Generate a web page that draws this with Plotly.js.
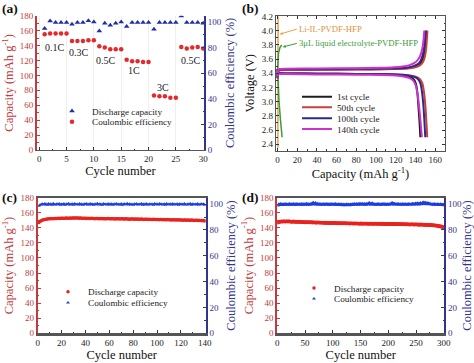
<!DOCTYPE html>
<html>
<head>
<meta charset="utf-8">
<script src="https://cdn.plot.ly/plotly-3.0.1.min.js"></script>
<style>html,body{margin:0;padding:0;background:#fff;}#chart{width:474px;height:363px;}</style>
</head>
<body>
<div id="chart"></div>
<script>
// ---------- Panel (a): rate capability ----------
var rateCycles = [1,2,3,4,5,6,7,8,9,10,11,12,13,14,15,16,17,18,19,20,21,22,23,24,25,26,27,28,29,30];
var rateCapacity = [155,156,156,156,156,146,146,146,147,147,139,137.5,135,135,135,121,119,119,118,118,73,72,72,70,70,138,136,137.5,138,136];
var rateEfficiency = [95,100.8,99.7,99.7,99.7,98.4,99.7,99.7,101,100,93,99,97.6,99,100,96.6,99.7,99.7,99.7,99.7,94.5,99.7,99.7,99.7,99.7,104.7,99.7,99.7,99.7,99];
var rateLabels = ['0.1C','0.3C','0.5C','1C','3C','0.5C'];
var rateLabelX = [2.9,7.3,12.2,17.3,22.6,27.7];
var rateLabelY = [138,131.3,120.6,105.9,84.4,120.6];

// ---------- Panel (b): charge/discharge profiles ----------
var c1ChX = [0,0.5,2,10,40,80,110,125,133,139,143,146,148,149.5,150.5,151];
var c1ChY = [3.33,3.42,3.445,3.45,3.452,3.456,3.46,3.466,3.475,3.49,3.515,3.56,3.63,3.74,3.88,4.0];
var c1DcX = [0,0.5,3,10,40,80,110,122,130,135,138.5,140.5,142,143.2,144.2,145];
var c1DcY = [3.46,3.41,3.40,3.398,3.394,3.39,3.385,3.378,3.365,3.345,3.31,3.25,3.12,2.9,2.7,2.5];
var c50ChX = [0,0.5,2,10,40,80,110,125,134,140,144.5,147.5,149.5,150.8,151.6,152.2];
var c50ChY = [3.33,3.42,3.44,3.445,3.448,3.452,3.456,3.462,3.47,3.485,3.51,3.555,3.63,3.74,3.88,4.0];
var c50DcX = [0,0.5,3,10,40,80,114,128,136,141.5,145,147.2,148.8,150.2,151.2,152];
var c50DcY = [3.46,3.41,3.40,3.398,3.394,3.39,3.385,3.378,3.365,3.345,3.31,3.25,3.12,2.92,2.7,2.5];
var c100ChX = [0,0.5,2,10,40,80,110,124,132,138,142,145,147,148.7,149.8,150.4];
var c100ChY = [3.34,3.43,3.45,3.455,3.458,3.462,3.466,3.472,3.482,3.5,3.525,3.57,3.64,3.75,3.88,4.0];
var c100DcX = [0,0.5,3,10,40,80,112,126,134,139.5,143,145.2,146.8,148.2,149.2,150];
var c100DcY = [3.46,3.41,3.40,3.398,3.394,3.39,3.385,3.378,3.365,3.345,3.31,3.25,3.12,2.92,2.7,2.5];
var c140ChX = [0,0.5,2,10,40,80,105,118,127,134,139,142.5,145,147,148.3,149];
var c140ChY = [3.35,3.44,3.46,3.465,3.468,3.472,3.476,3.483,3.495,3.515,3.545,3.59,3.65,3.75,3.88,4.0];
var c140DcX = [0,0.5,3,10,40,80,108,120,128,133.5,137.5,140,142,143.8,145.3,146.5];
var c140DcY = [3.45,3.40,3.39,3.388,3.384,3.38,3.375,3.368,3.355,3.335,3.30,3.24,3.12,2.92,2.7,2.5];
var ilX = [0.4,0.5,0.6];
var ilY = [2.35,3.3,4.2];
var liqChX = [0,0.3,1,2.5,4.3];
var liqChY = [3.42,3.6,3.68,3.76,3.8];
var liqDcX = [0.2,0.6,1.6,3.0,4.7];
var liqDcY = [3.45,3.2,3.0,2.75,2.5];
var cycleNames = ['1st cycle','50th cycle','100th cycle','140th cycle'];

// ---------- Panel (c): 140 cycles ----------
var capC = [147.2,148.6,149.5,150.3,150.8,151.2,151.5,151.6,151.9,152.0,152.1,152.3,152.2,152.4,152.5,152.3,152.6,152.5,152.7,152.6,
152.8,152.6,152.7,152.9,152.8,152.7,153.0,152.8,152.9,153.1,153.0,152.9,153.2,153.0,152.8,152.9,152.7,152.8,152.6,152.7,
152.5,152.6,152.4,152.5,152.6,152.3,152.4,152.2,152.5,152.3,152.2,152.4,152.1,152.3,152.2,152.0,152.2,152.1,152.3,152.0,
152.1,151.9,152.2,152.0,151.8,152.1,151.9,152.0,151.7,151.9,152.0,151.8,151.6,151.9,151.7,151.8,151.5,151.8,151.6,151.7,
151.5,151.7,151.4,151.6,151.5,151.3,151.6,151.4,151.2,151.5,151.3,151.4,151.1,151.3,151.2,151.0,151.3,151.1,151.2,150.9,
151.1,150.8,151.0,150.9,150.7,151.0,150.8,150.6,150.9,150.7,150.8,150.5,150.7,150.6,150.4,150.7,150.5,150.6,150.3,150.5,
150.4,150.2,150.5,150.3,150.1,150.4,150.2,150.0,150.3,150.1,149.9,150.2,150.0,149.8,150.0,149.7,149.9,149.5,149.6,149.2];
var effC = [98.6,99.4,99.8,100.2,99.6,100.4,99.9,99.5,100.3,99.7,100.1,99.4,100.5,99.8,99.6,100.2,99.9,100.4,99.5,100.0,
99.7,100.3,99.4,100.1,99.8,100.5,99.6,99.9,100.2,99.5,100.4,99.8,100.0,99.6,100.3,99.7,100.1,99.4,100.2,99.9,
100.3,99.6,99.9,100.4,99.7,100.0,99.5,100.2,99.8,100.5,99.6,100.1,99.9,99.4,100.3,99.8,100.0,99.6,100.4,99.7,
99.9,100.2,99.5,100.1,99.8,100.4,99.6,100.0,99.7,100.3,99.5,99.9,100.2,99.8,100.5,99.6,100.1,99.7,100.0,99.4,
100.2,99.8,100.3,99.6,100.0,99.9,100.4,99.5,100.1,99.7,100.3,99.8,99.6,100.2,99.9,100.0,99.5,100.4,99.8,100.1,
99.6,100.3,99.9,100.0,99.7,100.2,99.5,100.4,99.8,99.9,100.1,99.6,100.3,99.7,100.0,99.8,100.2,99.5,100.1,99.9,
100.0,99.7,100.3,99.8,99.6,100.2,99.9,100.4,99.5,100.1,99.8,100.0,99.7,100.3,99.6,99.9,100.2,99.8,100.1,99.4];

// ---------- Panel (d): 300 cycles ----------
var capD = [146.9,147.6,148.0,148.3,147.9,148.5,148.2,148.7,148.4,148.1,148.6,148.3,148.8,148.2,148.5,148.9,148.4,148.6,148.1,148.7,
148.3,148.6,148.0,148.5,148.2,147.9,148.4,148.1,148.6,147.8,148.3,148.0,147.7,148.2,147.9,148.4,147.6,148.1,147.8,148.0,
147.6,148.1,147.5,147.9,147.3,147.8,147.4,147.7,147.2,147.9,147.5,147.1,147.6,147.3,147.8,147.0,147.4,147.6,147.2,147.5,
147.1,147.6,147.3,146.9,147.4,147.0,147.5,146.8,147.2,146.9,147.3,146.7,147.1,147.4,146.8,147.0,146.6,147.2,146.9,146.7,
147.0,146.6,146.9,146.4,146.8,146.5,147.0,146.3,146.7,146.5,146.2,146.8,146.4,146.6,146.1,146.7,146.3,146.5,146.0,146.6,
146.3,146.7,146.1,146.4,146.0,146.6,146.2,145.9,146.5,146.1,146.3,145.8,146.4,146.0,146.2,145.9,146.5,146.1,145.8,146.3,
146.0,145.7,146.3,145.9,146.1,145.6,146.2,145.8,146.0,145.5,146.1,145.7,145.9,146.2,145.6,145.8,145.4,146.0,145.7,145.9,
145.5,146.0,145.7,145.3,145.9,145.6,145.8,145.2,145.7,145.5,146.0,145.4,145.6,145.1,145.8,145.5,145.7,145.3,145.9,145.4,
145.6,145.2,145.8,145.4,145.5,145.0,145.7,145.3,145.6,145.1,145.4,145.8,145.2,145.5,145.0,145.6,145.3,145.7,145.1,145.4,
145.5,145.0,145.3,145.7,145.1,145.4,144.9,145.5,145.2,145.6,145.0,145.3,144.8,145.4,145.1,145.5,144.9,145.2,145.4,145.0,
145.3,144.8,145.2,145.5,144.9,145.1,144.7,145.3,145.0,145.4,144.8,145.1,144.6,145.2,144.9,145.3,144.7,145.0,145.2,144.8,
145.1,144.6,144.9,145.2,144.7,145.0,144.5,144.8,145.1,144.4,144.9,144.6,145.0,144.3,144.8,144.5,144.9,144.2,144.7,144.5,
144.8,144.3,144.6,144.9,144.2,144.7,144.4,144.0,144.6,144.3,144.8,144.1,144.5,144.2,144.7,143.9,144.4,144.1,144.6,144.0,
144.3,143.8,144.5,144.0,143.6,144.2,143.9,144.4,143.5,144.1,143.7,144.0,143.4,143.9,143.6,144.1,143.3,143.8,143.5,143.2,
143.7,143.1,143.5,142.9,143.3,142.6,143.0,142.4,142.8,142.2,142.6,141.9,142.3,141.6,142.0,141.3,141.7,140.8,141.2,140.3];
var effD = [98.9,99.6,100.1,99.4,99.8,100.3,99.5,99.9,100.2,99.3,99.7,100.0,99.5,100.4,99.6,99.9,100.2,99.4,99.8,100.1,
99.5,100.3,99.7,99.9,100.2,99.4,100.0,99.6,100.4,99.8,99.5,100.1,99.7,100.3,99.4,99.9,100.2,99.6,100.0,99.8,
100.2,99.5,99.9,100.4,99.7,100.0,99.4,100.3,99.8,99.6,100.1,99.9,100.5,99.5,100.0,99.7,100.3,99.6,99.9,100.2,
99.7,100.4,100.8,99.9,101.2,100.3,99.8,100.6,101.0,99.7,100.2,99.9,100.5,99.6,100.1,99.8,100.3,99.5,100.0,99.7,
100.2,99.6,99.9,100.3,99.5,100.0,99.8,100.4,99.6,99.9,100.1,99.4,100.2,99.7,100.0,99.5,100.3,99.8,99.6,100.1,
99.8,100.2,99.5,99.9,100.4,99.6,100.0,99.3,99.8,100.1,99.5,99.9,99.2,99.7,100.2,99.4,99.8,99.1,99.6,100.0,
99.3,99.8,99.0,99.5,100.1,99.2,99.7,99.4,99.9,99.1,99.6,100.0,99.3,99.8,99.5,100.2,99.6,99.9,100.3,99.7,
100.0,99.6,100.4,99.8,100.1,99.5,100.3,99.9,100.6,99.7,100.2,99.8,100.5,99.6,100.0,99.9,100.4,99.7,100.1,99.5,
100.3,99.8,100.0,100.7,99.9,101.1,100.2,99.7,100.5,99.9,100.8,100.1,99.6,100.3,99.8,100.0,99.5,100.2,99.7,99.9,
100.1,99.6,100.3,99.8,100.0,99.5,100.2,99.7,99.9,100.4,99.6,100.1,99.8,100.3,99.5,100.0,99.7,100.2,99.9,99.6,
100.0,99.7,100.4,99.9,100.2,100.8,99.8,101.0,100.3,99.7,100.6,100.0,99.8,100.3,99.6,100.1,99.9,100.4,99.7,100.0,
99.6,100.2,99.8,100.0,99.5,100.3,99.7,99.9,100.1,99.6,100.2,99.8,100.0,99.5,99.9,100.3,99.7,100.1,99.8,100.0,
99.7,100.2,99.9,100.5,99.8,100.3,99.6,100.1,100.7,99.9,100.4,99.8,100.9,100.2,99.7,100.5,100.0,101.0,100.3,99.9,
100.6,101.2,100.2,101.5,100.8,100.1,101.3,100.5,99.9,101.0,100.4,100.8,100.0,100.6,99.8,100.3,100.0,99.6,100.2,99.8,
100.1,99.5,99.9,100.3,99.6,100.0,99.4,99.8,100.2,99.5,99.9,99.3,99.7,100.1,99.4,99.8,99.2,99.6,99.9,99.0];

// ---------- helpers ----------
var W = 474, H = 363;
function px(v){ return v / W; }
function py(v){ return 1 - v / H; }
function idx(arr){ return arr.map(function(_, i){ return i + 1; }); }
function joinSeg(a, b){ return a.concat([null], b); }
var SERIF = 'Liberation Serif';
var RED = '#c23b3b', NAVY = '#34348c', GREY = '#555555';
var tickF = function(c){ return {family: SERIF, size: 9, color: c}; };
var titleF = function(c){ return {family: SERIF, size: 12.5, color: c}; };

var cycleColors = ['#1e1e1e', '#c8413b', '#2b2b8c', '#cc33cc'];
var chX = [c1ChX, c50ChX, c100ChX, c140ChX];
var chY = [c1ChY, c50ChY, c100ChY, c140ChY];
var dcX = [c1DcX, c50DcX, c100DcX, c140DcX];
var dcY = [c1DcY, c50DcY, c100DcY, c140DcY];

var traces = [];
// (a)
traces.push({x: rateCycles, y: rateEfficiency, xaxis: 'x', yaxis: 'y2', mode: 'markers', type: 'scatter',
  name: 'Discharge capacity', legend: 'legend',
  marker: {symbol: 'triangle-up', size: 5, color: '#1f2fa8'}});
traces.push({x: rateCycles, y: rateCapacity, xaxis: 'x', yaxis: 'y', mode: 'markers', type: 'scatter',
  name: 'Coulombic efficiency', legend: 'legend2',
  marker: {symbol: 'circle', size: 4.5, color: '#e3292e'}});
// (b)
traces.push({x: ilX, y: ilY, xaxis: 'x2', yaxis: 'y3', mode: 'lines', showlegend: false,
  line: {color: '#e8a24a', width: 1.5}});
traces.push({x: joinSeg(liqChX, liqDcX), y: joinSeg(liqChY, liqDcY), xaxis: 'x2', yaxis: 'y3', mode: 'lines',
  showlegend: false, connectgaps: false, line: {color: '#3d9b3d', width: 1.5}});
for (var k = 0; k < 4; k++) {
  traces.push({x: joinSeg(chX[k], dcX[k]), y: joinSeg(chY[k], dcY[k]), xaxis: 'x2', yaxis: 'y3',
    mode: 'lines', name: cycleNames[k], legend: 'legend' + (3 + k), connectgaps: false,
    line: {color: cycleColors[k], width: 2, shape: 'spline', smoothing: 0.6}});
}
// (c)
traces.push({x: idx(capC), y: capC, xaxis: 'x3', yaxis: 'y4', mode: 'markers', name: 'Discharge capacity',
  legend: 'legend7', marker: {symbol: 'circle', size: 3.5, color: '#e8231f'}});
traces.push({x: idx(effC), y: effC, xaxis: 'x3', yaxis: 'y5', mode: 'markers', name: 'Coulombic efficiency',
  legend: 'legend8', marker: {symbol: 'triangle-up', size: 3.5, color: '#1d3fe0'}});
// (d)
traces.push({x: idx(capD), y: capD, xaxis: 'x4', yaxis: 'y6', mode: 'markers', name: 'Discharge capacity',
  legend: 'legend9', marker: {symbol: 'circle', size: 3.5, color: '#e8231f'}});
traces.push({x: idx(effD), y: effD, xaxis: 'x4', yaxis: 'y7', mode: 'markers', name: 'Coulombic efficiency',
  legend: 'legend10', marker: {symbol: 'triangle-up', size: 3.5, color: '#1d3fe0'}});

function leg(textX, rowY){
  return {x: px(textX - 40), y: py(rowY), xanchor: 'left', yanchor: 'middle',
    bgcolor: 'rgba(0,0,0,0)', borderwidth: 0, itemwidth: 30,
    font: {family: SERIF, size: 9.2, color: '#222'}};
}

function capAxis(domTop, domBot, anchor){
  return {domain: [py(domBot), py(domTop)], anchor: anchor, range: [0, 180], dtick: 20, tick0: 0,
    ticks: 'inside', ticklen: 3, tickwidth: 1, tickcolor: RED, showline: true, linecolor: RED, linewidth: 2,
    tickfont: tickF(RED), showgrid: false, zeroline: false,
    minor: {ticks: 'inside', ticklen: 1.5, dtick: 10, tickcolor: RED},
    title: {text: 'Capacity (mAh g<sup>-1</sup>)', font: titleF(RED), standoff: 4}};
}
function effAxis(over, anchor){
  return {overlaying: over, side: 'right', anchor: anchor, range: [0, 105], dtick: 20, tick0: 0,
    ticks: 'inside', ticklen: 3, tickwidth: 1, tickcolor: NAVY, showline: true, linecolor: NAVY, linewidth: 2,
    tickfont: tickF(NAVY), showgrid: false, zeroline: false,
    minor: {ticks: 'inside', ticklen: 1.5, dtick: 10, tickcolor: NAVY},
    title: {text: 'Coulombic efficiency (%)', font: titleF(NAVY), standoff: 4}};
}
function cycAxis(l, r, anchor, range, dt, mirror, lw){
  return {domain: [px(l), px(r)], anchor: anchor, range: range, dtick: dt, tick0: 0,
    ticks: 'inside', ticklen: 3, tickcolor: '#333', showline: true, linecolor: GREY, linewidth: lw,
    mirror: mirror, tickfont: tickF('#222'), zeroline: false,
    minor: {ticks: 'inside', ticklen: 1.5, dtick: dt / 2, tickcolor: '#333'},
    title: {text: 'Cycle number', font: titleF('#111'), standoff: 2}};
}

var xa = cycAxis(37, 204, 'y', [-0.4, 30.15], 5, false, 1.2);
xa.showgrid = true; xa.gridcolor = '#efefef'; xa.gridwidth = 1;
var xc = cycAxis(37.7, 205.7, 'y4', [0, 140.8], 20, true, 2.2);
xc.showgrid = false;
var xd = cycAxis(277.3, 444.3, 'y6', [0, 301], 50, true, 2.2);
xd.showgrid = false;

var layout = {
  width: W, height: H, margin: {l: 0, r: 0, t: 0, b: 0},
  paper_bgcolor: '#fff', plot_bgcolor: 'rgba(0,0,0,0)',
  font: {family: SERIF, size: 9, color: '#222'},
  xaxis: xa,
  yaxis: capAxis(15.7, 150, 'x'),
  yaxis2: effAxis('y', 'x'),
  xaxis2: {domain: [px(276), px(445)], anchor: 'y3', range: [-1.5, 170], dtick: 20, tick0: 0,
    ticks: 'inside', ticklen: 3, tickcolor: '#333', showline: true, linecolor: GREY, linewidth: 1.2,
    mirror: 'ticks', tickfont: tickF('#222'), showgrid: false, zeroline: false,
    minor: {ticks: 'inside', ticklen: 1.5, dtick: 10, tickcolor: '#333'},
    title: {text: 'Capacity (mAh g<sup>-1</sup>)', font: titleF('#111'), standoff: 2}},
  yaxis3: {domain: [py(150.7), py(15.7)], anchor: 'x2', range: [2.31, 4.21], dtick: 0.2, tick0: 2.4,
    tickformat: '.1f', ticks: 'inside', ticklen: 3, tickcolor: '#333', showline: true, linecolor: GREY,
    linewidth: 1.2, mirror: 'ticks', tickfont: tickF('#222'), showgrid: false, zeroline: false,
    minor: {ticks: 'inside', ticklen: 1.5, dtick: 0.1, tickcolor: '#333'},
    title: {text: 'Voltage (V)', font: titleF('#111'), standoff: 4}},
  xaxis3: xc,
  yaxis4: capAxis(197.7, 333.3, 'x3'),
  yaxis5: effAxis('y4', 'x3'),
  xaxis4: xd,
  yaxis6: capAxis(197.7, 333.3, 'x4'),
  yaxis7: effAxis('y6', 'x4'),
  legend: leg(92, 111),
  legend2: leg(92, 121.7),
  legend3: leg(337, 96.7),
  legend4: leg(337, 107.3),
  legend5: leg(337, 118.3),
  legend6: leg(337, 129),
  legend7: leg(88, 291.7),
  legend8: leg(88, 302.7),
  legend9: leg(334, 288),
  legend10: leg(334, 298.7),
  annotations: []
};

for (var i = 0; i < rateLabels.length; i++) {
  layout.annotations.push({x: rateLabelX[i], y: rateLabelY[i], xref: 'x', yref: 'y', text: rateLabels[i],
    showarrow: false, font: {family: SERIF, size: 10, color: '#222'}});
}
layout.annotations.push({x: 2.3, y: 3.95, xref: 'x2', yref: 'y3', ax: 17, ay: -5, xanchor: 'left',
  text: 'Li-IL-PVDF-HFP', showarrow: true, arrowhead: 2, arrowsize: 0.6, arrowwidth: 1, arrowcolor: '#e8a24a',
  standoff: 0, font: {family: SERIF, size: 8.7, color: '#e0913a'}});
layout.annotations.push({x: 5.4, y: 3.77, xref: 'x2', yref: 'y3', ax: 14, ay: -3.6, xanchor: 'left',
  text: '3μL liquid electrolyte-PVDF-HFP', showarrow: true, arrowhead: 2, arrowsize: 0.6, arrowwidth: 1,
  arrowcolor: '#3d9b3d', standoff: 0, font: {family: SERIF, size: 8.7, color: '#3d9b3d'}});
var panelLabels = ['(a)', '(b)', '(c)', '(d)'];
var panelX = [0, 240, 0, 240];
var panelY = [8, 8, 197, 197];
for (var j = 0; j < 4; j++) {
  layout.annotations.push({x: px(panelX[j]), y: py(panelY[j]), xref: 'paper', yref: 'paper', xanchor: 'left',
    yanchor: 'middle', text: '<b>' + panelLabels[j] + '</b>', showarrow: false,
    font: {family: SERIF, size: 13.5, color: '#111'}});
}

Plotly.newPlot('chart', traces, layout, {displayModeBar: false, staticPlot: true});
</script>
</body>
</html>
